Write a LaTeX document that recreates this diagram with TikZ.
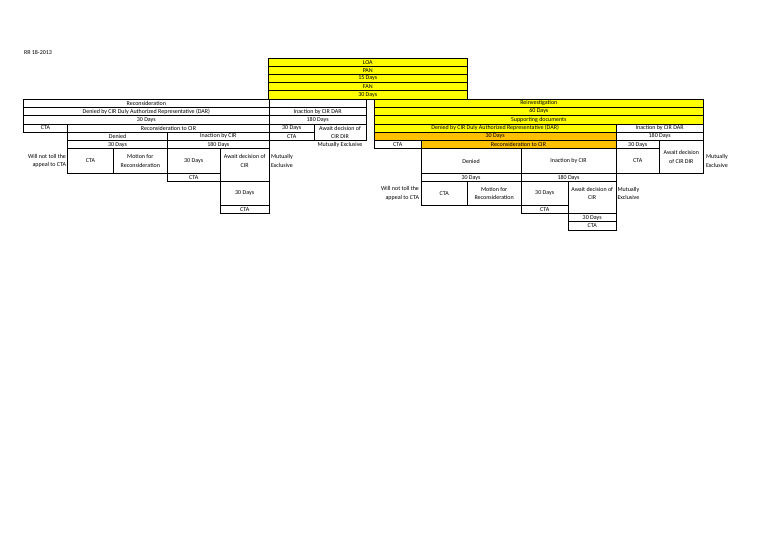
\documentclass[tikz,border=0pt]{standalone}
\usepackage{fontspec}
\setmainfont{Carlito}
\definecolor{xlyellow}{HTML}{FFFF00}
\definecolor{xlorange}{HTML}{FFC000}
\newcommand\cellbox[7]{%
  \pgfmathsetmacro\cbw{#4-#2}%
  \pgfmathsetmacro\cbh{#5-#3}%
  \node[cell,fill=#6,minimum width=\cbw pt,minimum height=\cbh pt] (#1) at ({(#2+#4)/2},{(#3+#5)/2}) {#7};%
}
\tikzset{
  cell/.style={draw=black,line width=0.8pt,inner sep=0pt,outer sep=0pt,align=center,
    font=\fontsize{6}{8.3}\selectfont},
  plain/.style={inner sep=0pt,outer sep=0pt,font=\fontsize{6}{8.3}\selectfont},
}
\begin{document}
\begin{tikzpicture}[x=1pt,y=-1pt]
\useasboundingbox (0,0) rectangle (768,543);
\def\ra{99}\def\rb{107.3}\def\rc{115.6}\def\rd{123.9}\def\re{132.2}\def\rf{140.5}
\def\rg{148.6}\def\rh{173.4}\def\ri{181.7}\def\rj{205.2}\def\rk{213.4}\def\rl{221.7}\def\rm{230}
% title
\node[plain,anchor=west] (title) at (24,52) {RR 18-2013};
% top yellow block
\cellbox{loa}{268.5}{58}{467}{66.2}{xlyellow}{LOA}
\cellbox{pan}{268.5}{66.2}{467}{74.4}{xlyellow}{PAN}
\cellbox{fifteen}{268.5}{74.4}{467}{82.6}{xlyellow}{15 Days}
\cellbox{fan}{268.5}{82.6}{467}{90.8}{xlyellow}{FAN}
\cellbox{thirtytop}{268.5}{90.8}{467}{\ra}{xlyellow}{30 Days}
% left block
\cellbox{L1}{23.3}{\ra}{269.3}{\rb}{white}{Reconsideration}
\cellbox{L2}{23.3}{\rb}{269.3}{\rc}{white}{Denied by CIR Duly Authorized Representative (DAR)}
\cellbox{L3}{23.3}{\rc}{269.3}{\rd}{white}{30 Days}
\cellbox{L4a}{23.3}{\rd}{67.7}{\re}{white}{CTA}
\cellbox{L4b}{67.7}{\rd}{269.3}{\re}{white}{Reconsideration to CIR}
\cellbox{L5a}{67.7}{\re}{167.3}{\rf}{white}{Denied}
\cellbox{L5b}{167.3}{\re}{269.3}{\rf}{white}{Inaction by CIR}
\cellbox{L6a}{67.7}{\rf}{167.3}{\rg}{white}{30 Days}
\cellbox{L6b}{167.3}{\rf}{269.3}{\rg}{white}{180 Days}
\node[plain,anchor=east,align=right] (Ltoll) at (66,{(\rg+\rh)/2}) {Will not toll the\\appeal to CTA};
\cellbox{L7a}{67.7}{\rg}{113.3}{\rh}{white}{CTA}
\cellbox{L7b}{113.3}{\rg}{167.3}{\rh}{white}{Motion for\\Reconsideration}
\cellbox{L7c}{167.3}{\rg}{220}{\rh}{white}{30 Days}
\cellbox{L7d}{220}{\rg}{269.3}{\ri}{white}{}
\node[plain,align=center] (L7dt) at (244.65,{(\rg+\rh)/2}) {Await decision of\\CIR};
\node[plain,anchor=west,align=left] (Lmut) at (271,{(\rg+\rh)/2}) {Mutually\\Exclusive};
\cellbox{L8}{167.3}{\rh}{220}{\ri}{white}{CTA}
\cellbox{L9}{220}{\ri}{269.3}{\rj}{white}{30 Days}
\cellbox{L10}{220}{\rj}{269.3}{\rk}{white}{CTA}
% middle block
\cellbox{M1}{269.3}{\ra}{366}{\rb}{white}{}
\cellbox{M2}{269.3}{\rb}{366}{\rc}{white}{Inaction by CIR DAR}
\cellbox{M3}{269.3}{\rc}{366}{\rd}{white}{180 Days}
\cellbox{M4a}{269.3}{\rd}{314}{\re}{white}{30 Days}
\cellbox{M4b}{314}{\rd}{366}{\rf}{white}{Await decision of\\CIR DIR}
\cellbox{M5a}{269.3}{\re}{314}{\rf}{white}{CTA}
\node[plain] (Mmut) at (340,{(\rf+\rg)/2}) {Mutually Exclusive};
% right block
\cellbox{R1}{374.3}{\ra}{703.3}{\rb}{xlyellow}{Reinvestigation}
\cellbox{R2}{374.3}{\rb}{703.3}{\rc}{xlyellow}{60 Days}
\cellbox{R3}{374.3}{\rc}{703.3}{\rd}{xlyellow}{Supporting documents}
\cellbox{R4a}{374.3}{\rd}{616}{\re}{xlyellow}{Denied by CIR Duly Authorized Representative (DAR)}
\cellbox{R4b}{616}{\rd}{703.3}{\re}{white}{Inaction by CIR DAR}
\cellbox{R5a}{374.3}{\re}{616}{\rf}{xlorange}{30 Days}
\cellbox{R5b}{616}{\re}{703.3}{\rf}{white}{180 Days}
\cellbox{R6a}{374.3}{\rf}{421}{\rg}{white}{CTA}
\cellbox{R6b}{421}{\rf}{616}{\rg}{xlorange}{Reconsideration to CIR}
\cellbox{R6c}{616}{\rf}{659.3}{\rg}{white}{30 Days}
\cellbox{R6d}{659.3}{\rf}{703.3}{\rh}{white}{Await decision\\of CIR DIR}
\cellbox{R7a}{421}{\rg}{521}{\rh}{white}{Denied}
\cellbox{R7b}{521}{\rg}{616}{\rh}{white}{Inaction by CIR}
\cellbox{R7c}{616}{\rg}{659.3}{\rh}{white}{CTA}
\node[plain,anchor=west,align=left] (Rmut1) at (706,{(\rg+\rh)/2}) {Mutually\\Exclusive};
\cellbox{R8a}{421}{\rh}{521}{\ri}{white}{30 Days}
\cellbox{R8b}{521}{\rh}{616}{\ri}{white}{180 Days}
\node[plain,anchor=east,align=right] (Rtoll) at (419,{(\ri+\rj)/2}) {Will not toll the\\appeal to CTA};
\cellbox{R9a}{421}{\ri}{467.3}{\rj}{white}{CTA}
\cellbox{R9b}{467.3}{\ri}{521}{\rj}{white}{Motion for\\Reconsideration}
\cellbox{R9c}{521}{\ri}{568.3}{\rj}{white}{30 Days}
\cellbox{R9d}{568.3}{\ri}{616}{\rk}{white}{}
\node[plain,align=center] (R9dt) at (592.15,{(\ri+\rj)/2}) {Await decision of\\CIR};
\node[plain,anchor=west,align=left] (Rmut2) at (617.5,{(\ri+\rj)/2}) {Mutually\\Exclusive};
\cellbox{R10}{521}{\rj}{568.3}{\rk}{white}{CTA}
\cellbox{R11}{568.3}{\rk}{616}{\rl}{white}{30 Days}
\cellbox{R12}{568.3}{\rl}{616}{\rm}{white}{CTA}
\end{tikzpicture}
\end{document}
